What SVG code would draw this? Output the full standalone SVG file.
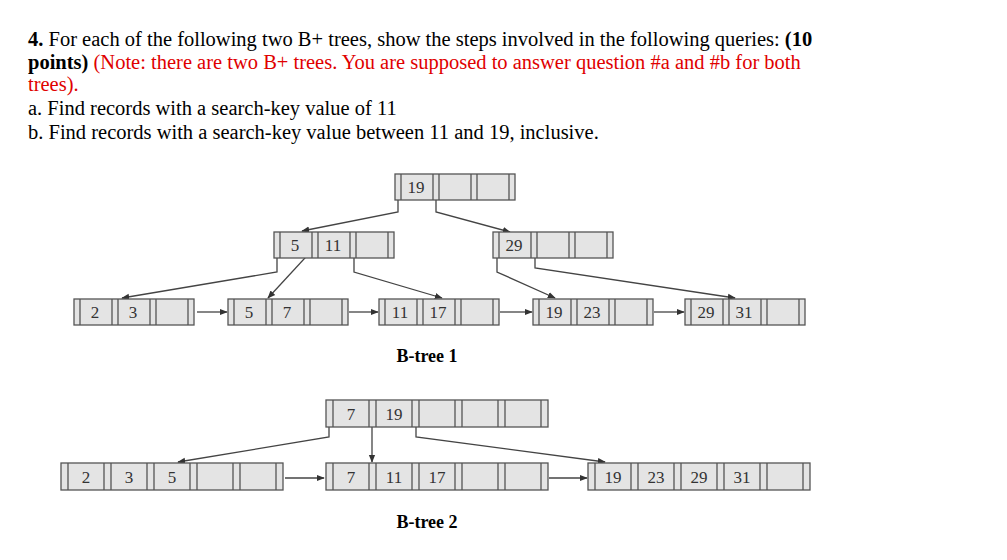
<svg xmlns="http://www.w3.org/2000/svg" width="1007" height="560" viewBox="0 0 1007 560">
<style>
.h{font-family:"Liberation Serif",serif;font-size:20.5px;fill:#000}
.r{fill:#e00000}
.b{font-weight:bold}
.k{font-family:"Liberation Serif",serif;font-size:17px;fill:#333;text-anchor:middle}
.c{fill:none;stroke:#444;stroke-width:1.3}
.t{font-family:"Liberation Serif",serif;font-size:18px;font-weight:bold;text-anchor:middle}
</style>
<defs>
<g id="n3"><rect x="0" y="0" width="120" height="26" fill="#e4e4e4" stroke="#555" stroke-width="1.3"/><path d="M6 0V26M38 0V26M44 0V26M76 0V26M82 0V26M114 0V26" stroke="#555" stroke-width="1.3"/></g>
<g id="n5"><rect x="0" y="0" width="222" height="27" fill="#e4e4e4" stroke="#555" stroke-width="1.3"/><path d="M7 0V27M43 0V27M50 0V27M86 0V27M93 0V27M129 0V27M136 0V27M172 0V27M179 0V27M215 0V27" stroke="#555" stroke-width="1.3"/></g>
<marker id="a" viewBox="0 0 10 10" refX="9" refY="5" markerWidth="8" markerHeight="8" orient="auto" markerUnits="userSpaceOnUse"><path d="M0 1L10 5L0 9z" fill="#333"/></marker>
</defs>
<text class="h" x="28" y="46"><tspan class="b">4.</tspan> For each of the following two B+ trees, show the steps involved in the following queries: <tspan class="b">(10</tspan></text>
<text class="h" x="28" y="69"><tspan class="b">points)</tspan> <tspan class="r">(Note: there are two B+ trees. You are supposed to answer question #a and #b for both</tspan></text>
<text class="h r" x="28" y="91">trees).</text>
<text class="h" x="28" y="115">a. Find records with a search-key value of 11</text>
<text class="h" x="28" y="139">b. Find records with a search-key value between 11 and 19, inclusive.</text>
<g id="connectors">
<path class="c" marker-end="url(#a)" d="M398 188V212L302 231"/>
<path class="c" marker-end="url(#a)" d="M436 188V212L510 232"/>
<path class="c" marker-end="url(#a)" d="M277 246V272L122 298"/>
<path class="c" marker-end="url(#a)" d="M316 246L268 298"/>
<path class="c" marker-end="url(#a)" d="M354 246V272L442 298"/>
<path class="c" marker-end="url(#a)" d="M497 246V272L555 298"/>
<path class="c" marker-end="url(#a)" d="M535 246V268L735 298"/>
<path class="c" marker-end="url(#a)" d="M197 312H227"/>
<path class="c" marker-end="url(#a)" d="M349 312H378"/>
<path class="c" marker-end="url(#a)" d="M500 312H532"/>
<path class="c" marker-end="url(#a)" d="M654 312H684"/>
<path class="c" marker-end="url(#a)" d="M329 414V437L178 462"/>
<path class="c" marker-end="url(#a)" d="M372 414V462"/>
<path class="c" marker-end="url(#a)" d="M416 414V437L605 462"/>
<path class="c" marker-end="url(#a)" d="M285 478H324"/>
<path class="c" marker-end="url(#a)" d="M549 478H587"/>
</g>
<g id="t1root"><use href="#n3" x="395" y="174"/><text class="k" x="416" y="193">19</text></g>
<g id="t1i1"><use href="#n3" x="274" y="232"/><text class="k" x="295" y="251">5</text><text class="k" x="333" y="251">11</text></g>
<g id="t1i2"><use href="#n3" x="493" y="232"/><text class="k" x="514" y="251">29</text></g>
<g id="t1l1"><use href="#n3" x="74" y="299"/><text class="k" x="95" y="318">2</text><text class="k" x="133" y="318">3</text></g>
<g id="t1l2"><use href="#n3" x="228" y="299"/><text class="k" x="249" y="318">5</text><text class="k" x="287" y="318">7</text></g>
<g id="t1l3"><use href="#n3" x="379" y="299"/><text class="k" x="400" y="318">11</text><text class="k" x="438" y="318">17</text></g>
<g id="t1l4"><use href="#n3" x="533" y="299"/><text class="k" x="554" y="318">19</text><text class="k" x="592" y="318">23</text></g>
<g id="t1l5"><use href="#n3" x="685" y="299"/><text class="k" x="706" y="318">29</text><text class="k" x="744" y="318">31</text></g>
<text class="t" x="427" y="362">B-tree 1</text>
<g id="t2root"><use href="#n5" x="326" y="400"/><text class="k" x="351" y="420">7</text><text class="k" x="394" y="420">19</text></g>
<g id="t2l1"><use href="#n5" x="61" y="463"/><text class="k" x="86" y="483">2</text><text class="k" x="129" y="483">3</text><text class="k" x="172" y="483">5</text></g>
<g id="t2l2"><use href="#n5" x="326" y="463"/><text class="k" x="351" y="483">7</text><text class="k" x="394" y="483">11</text><text class="k" x="437" y="483">17</text></g>
<g id="t2l3"><use href="#n5" x="588" y="463"/><text class="k" x="613" y="483">19</text><text class="k" x="656" y="483">23</text><text class="k" x="699" y="483">29</text><text class="k" x="742" y="483">31</text></g>
<text class="t" x="427" y="528">B-tree 2</text>
</svg>
